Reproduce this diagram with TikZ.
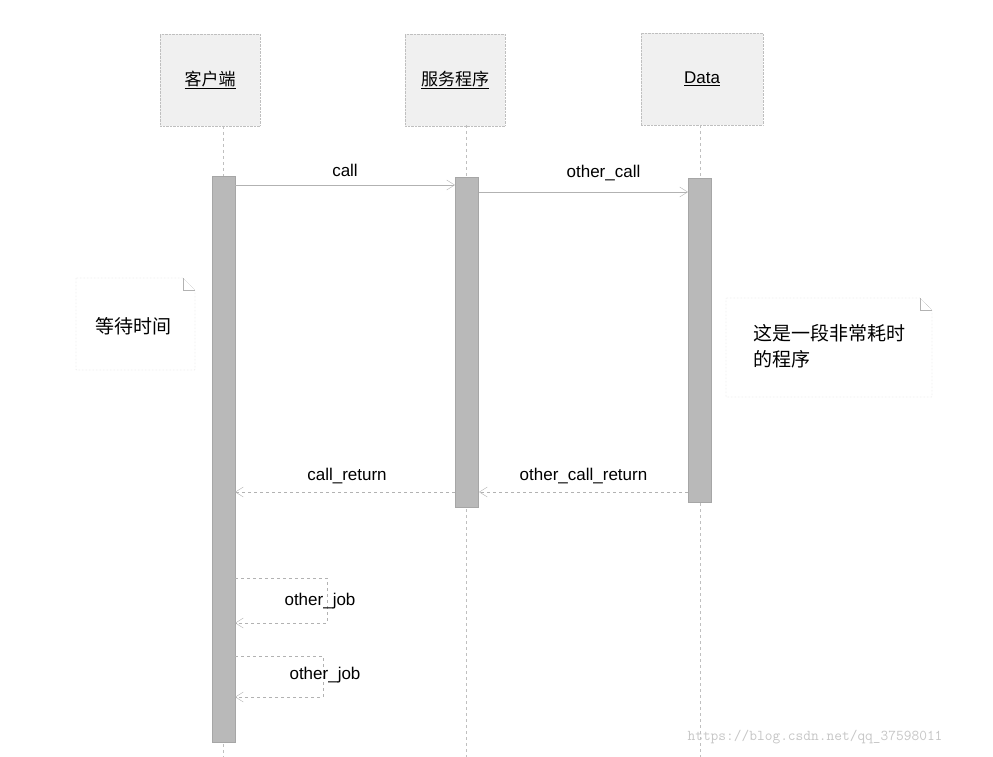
\documentclass[tikz,border=0pt]{standalone}
\usepackage{fontspec}
\setmainfont{Liberation Sans}
\newfontfamily\cjk{Noto Sans CJK SC}
\usetikzlibrary{arrows.meta}
\begin{document}
\begin{tikzpicture}[x=1pt,y=-1pt,
  head/.style={draw=gray!50,densely dotted,fill=gray!12,minimum width=100pt,minimum height=92pt,font=\fontsize{17}{20}\selectfont},
  bar/.style={draw=gray!70,fill=gray!55,minimum width=23pt,inner sep=0pt},
  life/.style={draw=gray!50,dashed},
  msg/.style={draw=gray!60,-{Straight Barb[length=8pt,width=10pt]}},
  ret/.style={msg,dashed},
  lbl/.style={font=\fontsize{17}{20}\selectfont}]
\useasboundingbox (0,0) rectangle (993,757);
\node[head] (c) at (210,80) {\cjk\underline{客户端}};
\node[head] (s) at (455,80) {\cjk\underline{服务程序}};
\node[head,minimum width=122pt] (d) at (702,79) {\underline{Data}};
\coordinate (ce) at (223,757); \coordinate (se) at (466,757); \coordinate (de) at (700,757);
\draw[life] (223,126) -- (ce);
\draw[life] (466,125) -- (se);
\draw[life] (700,125) -- (de);
\node[bar,minimum height=566pt] (cb) at (223.5,459) {};
\node[bar,minimum height=330pt] (sb) at (467,342) {};
\node[bar,minimum height=324pt] (db) at (699.5,340) {};
\coordinate (a1) at (235,185); \coordinate (a2) at (455,185);
\draw[msg] (a1) -- node[lbl,above=5pt] {call} (a2);
\coordinate (b1) at (479,192); \coordinate (b2) at (688,192);
\draw[msg] (b1) -- node[lbl,above=8pt,xshift=20pt] {other\_call} (b2);
\coordinate (r1) at (455,492); \coordinate (r2) at (235,492);
\draw[ret] (r1) -- node[lbl,above=5pt,xshift=2pt] {call\_return} (r2);
\coordinate (q1) at (688,492); \coordinate (q2) at (479,492);
\draw[ret] (q1) -- node[lbl,above=5pt] {other\_call\_return} (q2);
\coordinate (j1) at (235,578); \coordinate (j2) at (235,623);
\draw[ret] (j1) -- (327,578) -- (327,623) -- (j2);
\node[lbl] (jl1) at (320,601) {other\_job};
\coordinate (k1) at (235,656); \coordinate (k2) at (235,697);
\draw[ret] (k1) -- (323,656) -- (323,697) -- (k2);
\node[lbl] (jl2) at (325,675) {other\_job};
\draw[gray!60,densely dotted] (76,278) -- (183,278) -- (195,290) -- (195,370) -- (76,370) -- cycle;
\draw[gray!60] (183,278) -- (183,290) -- (195,290);
\node[font=\cjk\fontsize{19}{24}\selectfont] (n1) at (133,326) {等待时间};
\draw[gray!60,densely dotted] (726,298) -- (920,298) -- (932,310) -- (932,397) -- (726,397) -- cycle;
\draw[gray!60] (920,298) -- (920,310) -- (932,310);
\node[font=\cjk\fontsize{19}{26}\selectfont,align=left] (n2) at (829,346) {这是一段非常耗时\\的程序};
\node[text=gray!45,font=\ttfamily\fontsize{15}{18}\selectfont] (w) at (815,737) {https://blog.csdn.net/qq\_37598011};
\end{tikzpicture}
\end{document}
